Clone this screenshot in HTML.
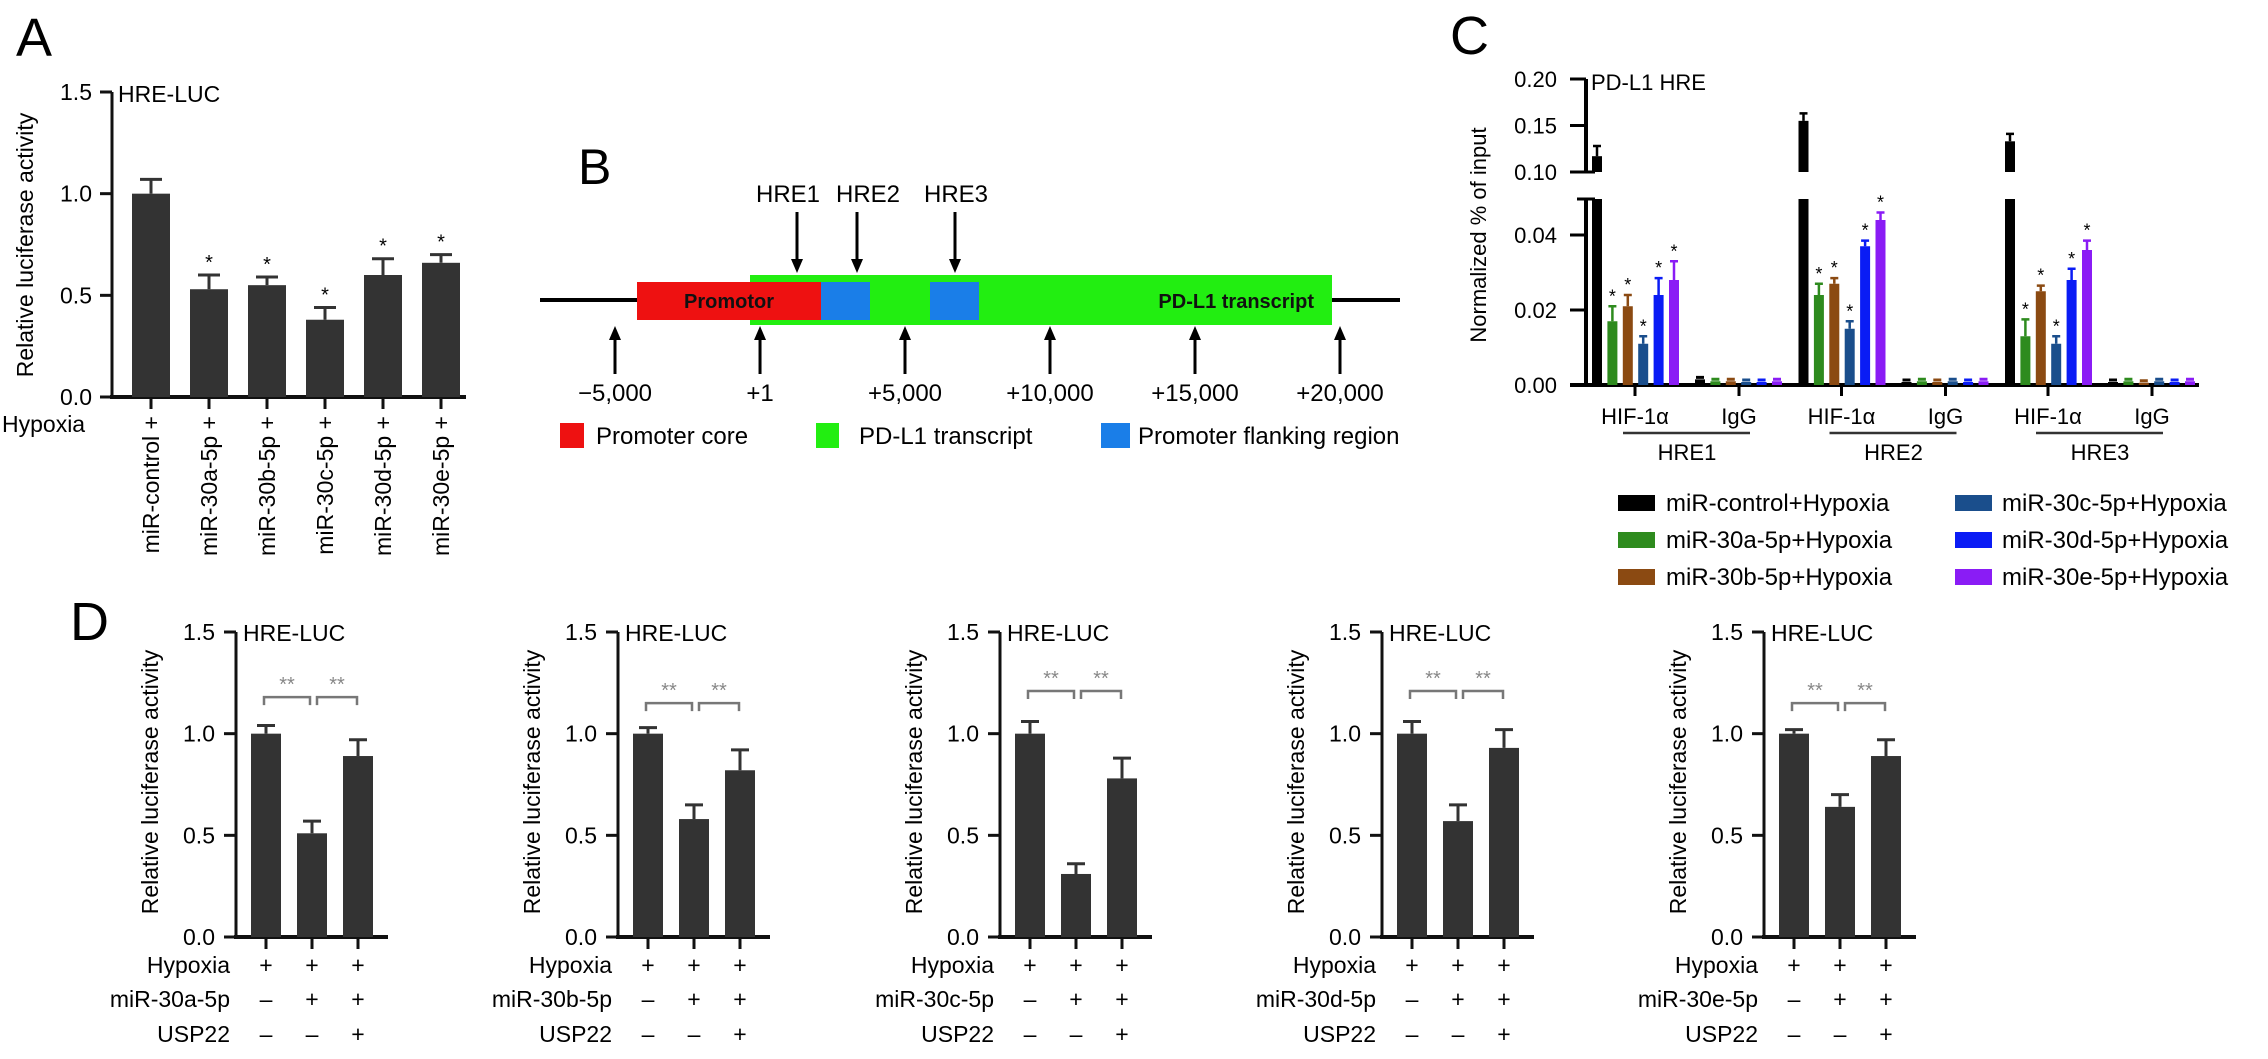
<!DOCTYPE html>
<html><head><meta charset="utf-8"><style>
html,body{margin:0;padding:0;background:#fff;}
svg{display:block;font-family:"Liberation Sans",Arial,sans-serif;}
</style></head><body>
<svg id="fig" width="2268" height="1059" viewBox="0 0 2268 1059" xmlns="http://www.w3.org/2000/svg">
<g font-size="54" fill="#000">
<text x="16" y="56">A</text>
<text x="578" y="184" font-size="50">B</text>
<text x="1450" y="54">C</text>
<text x="70" y="640">D</text>
</g>
<g id="panelB">
<line x1="540" y1="300" x2="1400" y2="300" stroke="#000" stroke-width="4"/>
<rect x="750" y="275" width="582" height="50" fill="#22ee11"/>
<rect x="637" y="282" width="184" height="38" fill="#ee1111"/>
<rect x="821" y="282" width="49" height="38" fill="#1a7ee8"/>
<rect x="930" y="282" width="49" height="38" fill="#1a7ee8"/>
<text x="729" y="308" font-size="20" font-weight="bold" text-anchor="middle" fill="#111">Promotor</text>
<text x="1314" y="308" font-size="20" font-weight="bold" text-anchor="end" fill="#111">PD-L1 transcript</text>
<g font-size="24" text-anchor="middle">
<text x="788" y="202">HRE1</text>
<text x="868" y="202">HRE2</text>
<text x="956" y="202">HRE3</text>
</g>
<g id="bArrows"></g>
<g font-size="24">
<rect x="560" y="423" width="24" height="25" fill="#ee1111"/>
<text x="596" y="444">Promoter core</text>
<rect x="816" y="423" width="23" height="25" fill="#22ee11"/>
<text x="859" y="444">PD-L1 transcript</text>
<rect x="1101" y="423" width="29" height="25" fill="#1a7ee8"/>
<text x="1138" y="444">Promoter flanking region</text>
</g>
</g>
<g id="panelA"></g>
<g id="panelC"></g>
<g id="panelD"></g>
</svg>
<script>
// ---- Panel A data ----
const aCategories = ["miR-control", "miR-30a-5p", "miR-30b-5p", "miR-30c-5p", "miR-30d-5p", "miR-30e-5p"];
const aValues = [1.0, 0.53, 0.55, 0.38, 0.60, 0.66];
const aErrors = [0.07, 0.07, 0.04, 0.06, 0.08, 0.04];
const aStars = ["", "*", "*", "*", "*", "*"];
const luTicks = [0.0, 0.5, 1.0, 1.5];
const luTickLabels = ["0.0", "0.5", "1.0", "1.5"];
// ---- Panel B data ----
const bPositions = ["−5,000", "+1", "+5,000", "+10,000", "+15,000", "+20,000"];
const bPosValues = [-5000, 1, 5000, 10000, 15000, 20000];
const bHreValues = [1276, 3345, 6724];
// ---- Panel C data ----
const cSeries = ["miR-control+Hypoxia", "miR-30a-5p+Hypoxia", "miR-30b-5p+Hypoxia", "miR-30c-5p+Hypoxia", "miR-30d-5p+Hypoxia", "miR-30e-5p+Hypoxia"];
const cColors = ["#000000", "#2e8b1e", "#8b4a12", "#1a4e8c", "#0a1cf5", "#8a1cf5"];
const cGroups = ["HRE1", "HRE2", "HRE3"];
const cHif = [[0.117, 0.017, 0.021, 0.011, 0.024, 0.028], [0.155, 0.024, 0.027, 0.015, 0.037, 0.044], [0.133, 0.013, 0.025, 0.011, 0.028, 0.036]];
const cHifErr = [[0.011, 0.004, 0.003, 0.002, 0.0045, 0.005], [0.008, 0.003, 0.0015, 0.002, 0.0015, 0.002], [0.008, 0.0045, 0.0015, 0.002, 0.003, 0.0025]];
const cIgg = [[0.0015, 0.001, 0.001, 0.0008, 0.0008, 0.001], [0.0008, 0.001, 0.0008, 0.001, 0.0008, 0.001], [0.0008, 0.001, 0.0006, 0.001, 0.0008, 0.001]];
const cLowTicks = [0.00, 0.02, 0.04];
const cLowTickLabels = ["0.00", "0.02", "0.04"];
const cHighTicks = [0.10, 0.15, 0.20];
const cHighTickLabels = ["0.10", "0.15", "0.20"];
// ---- Panel D data ----
const dMirs = ["miR-30a-5p", "miR-30b-5p", "miR-30c-5p", "miR-30d-5p", "miR-30e-5p"];
const dValues = [[1.0, 0.51, 0.89], [1.0, 0.58, 0.82], [1.0, 0.31, 0.78], [1.0, 0.57, 0.93], [1.0, 0.64, 0.89]];
const dErrors = [[0.04, 0.06, 0.08], [0.03, 0.07, 0.10], [0.06, 0.05, 0.10], [0.06, 0.08, 0.09], [0.02, 0.06, 0.08]];
const dBracketY = [1.18, 1.15, 1.21, 1.21, 1.15];
const dHypoxia = ["+", "+", "+"];
const dMir = ["–", "+", "+"];
const dUsp = ["–", "–", "+"];

const NS = "http://www.w3.org/2000/svg";
function mk(parent, tag, attrs, text) {
  const e = document.createElementNS(NS, tag);
  for (const k in attrs) e.setAttribute(k, attrs[k]);
  if (text !== undefined) e.textContent = text;
  parent.appendChild(e);
  return e;
}
let el;

// ================= Panel A =================
const A = document.getElementById("panelA");
const aAxisX = 112, aY0 = 397, aY15 = 92;
const aY = v => aY0 - (aY0 - aY15) * v / 1.5;
const aX = i => 151 + i * 58;
el = mk(A, "line", {x1: aAxisX, y1: aY15, x2: aAxisX, y2: aY0, stroke: "#111", "stroke-width": 3});
 
el = mk(A, "line", {x1: aAxisX - 2, y1: aY0, x2: 466, y2: aY0, stroke: "#111", "stroke-width": 4});
 
luTicks.forEach((t, i) => {
  el = mk(A, "line", {x1: aAxisX - 12, y1: aY(t), x2: aAxisX, y2: aY(t), stroke: "#111", "stroke-width": 3});
   
  el = mk(A, "text", {x: aAxisX - 20, y: aY(t) + 8, "font-size": 23, "text-anchor": "end"}, luTickLabels[i]);
   
});
el = mk(A, "text", {x: 118, y: 102, "font-size": 23}, "HRE-LUC");
 
el = mk(A, "text", {x: 0, y: 0, "font-size": 23, "text-anchor": "middle", transform: "translate(33,245) rotate(-90)"}, "Relative luciferase activity");
 
el = mk(A, "text", {x: 2, y: 432, "font-size": 23}, "Hypoxia");
 
aValues.forEach((v, i) => {
  const cx = aX(i), w = 38;
  el = mk(A, "rect", {x: cx - w / 2, y: aY(v), width: w, height: aY0 - aY(v), fill: "#333"});
   
  el = mk(A, "path", {d: `M${cx},${aY(v)}V${aY(v + aErrors[i])}M${cx - 11},${aY(v + aErrors[i])}H${cx + 11}`, stroke: "#333", "stroke-width": 3, fill: "none"});
   
  if (aStars[i]) {
    el = mk(A, "text", {x: cx, y: aY(v + aErrors[i]) - 6, "font-size": 20, "text-anchor": "middle"}, aStars[i]);
     
  }
  el = mk(A, "line", {x1: cx, y1: aY0, x2: cx, y2: aY0 + 12, stroke: "#111", "stroke-width": 3});
   
  el = mk(A, "text", {x: 0, y: 0, "font-size": 23, "text-anchor": "end", transform: `translate(${cx + 8},416) rotate(-90)`}, aCategories[i] + " +");
   
});

// ================= Panel B arrows =================
const B = document.getElementById("bArrows");
const bX = p => 615 + (p + 5000) * (1340 - 615) / 25000;
bPosValues.forEach((p, i) => {
  const x = bX(p);
  el = mk(B, "path", {d: `M${x},374V336`, stroke: "#000", "stroke-width": 3});
   
  el = mk(B, "path", {d: `M${x - 6},340L${x},326L${x + 6},340Z`, fill: "#000"});
   
  el = mk(B, "text", {x: x, y: 401, "font-size": 24, "text-anchor": "middle"}, bPositions[i]);
   
});
bHreValues.forEach((p, i) => {
  const x = bX(p);
  el = mk(B, "path", {d: `M${x},212V262`, stroke: "#000", "stroke-width": 3});
   
  el = mk(B, "path", {d: `M${x - 6},259L${x},273L${x + 6},259Z`, fill: "#000"});
   
});

// ================= Panel C =================
const C = document.getElementById("panelC");
const cAxisX = 1586, cY0 = 385;
const cLowTop = 199, cHighBot = 172;
const cYLow = v => cY0 - v * 3750;
const cYHigh = v => cHighBot - (v - 0.10) * 930;
const cYv = v => v <= 0.0496 ? cYLow(v) : cYHigh(Math.max(v, 0.10));
const cGroupOffset = 206.5, cBarStep = 15.4;
const cHifX = (g, s) => 1597 + g * cGroupOffset + s * cBarStep;
const cIggX = (g, s) => 1700 + g * cGroupOffset + s * cBarStep;
el = mk(C, "line", {x1: cAxisX, y1: 79, x2: cAxisX, y2: cHighBot, stroke: "#000", "stroke-width": 4});
 
el = mk(C, "line", {x1: cAxisX, y1: cLowTop, x2: cAxisX, y2: cY0, stroke: "#000", "stroke-width": 4});
 
el = mk(C, "line", {x1: 1570, y1: cY0, x2: 2199, y2: cY0, stroke: "#000", "stroke-width": 4});
 
[[cHighBot, 'c-axis-break-top'], [cLowTop, 'c-axis-break-bottom']].forEach(b => {
  el = mk(C, "line", {x1: cAxisX - 9, y1: b[0], x2: cAxisX + 9, y2: b[0], stroke: "#000", "stroke-width": 3});
   
});
cLowTicks.forEach((t, i) => {
  el = mk(C, "line", {x1: 1570, y1: cYLow(t), x2: cAxisX, y2: cYLow(t), stroke: "#000", "stroke-width": 3});
   
  el = mk(C, "text", {x: 1557, y: cYLow(t) + 8, "font-size": 22, "text-anchor": "end"}, cLowTickLabels[i]);
   
});
cHighTicks.forEach((t, i) => {
  el = mk(C, "line", {x1: 1570, y1: cYHigh(t), x2: cAxisX, y2: cYHigh(t), stroke: "#000", "stroke-width": 3});
   
  el = mk(C, "text", {x: 1557, y: cYHigh(t) + 8, "font-size": 22, "text-anchor": "end"}, cHighTickLabels[i]);
   
});
el = mk(C, "text", {x: 1591, y: 90, "font-size": 22}, "PD-L1 HRE");
 
el = mk(C, "text", {x: 0, y: 0, "font-size": 22, "text-anchor": "middle", transform: "translate(1486,235) rotate(-90)"}, "Normalized % of input");
 
function cBar(x, v, color, name) {
  const w = 10;
  if (v > 0.0496) {
    el = mk(C, "rect", {x: x - w / 2, y: cLowTop, width: w, height: cY0 - cLowTop, fill: color});
     
    el = mk(C, "rect", {x: x - w / 2, y: cYHigh(v), width: w, height: cHighBot - cYHigh(v), fill: color});
     
  } else {
    el = mk(C, "rect", {x: x - w / 2, y: cYLow(v), width: w, height: cY0 - cYLow(v), fill: color});
     
  }
}
cGroups.forEach((g, gi) => {
  cHif[gi].forEach((v, s) => {
    const x = cHifX(gi, s);
    cBar(x, v, cColors[s], 'c-bar-' + g + '-hif-' + s);
    const yt = cYv(v), ye = cYv(v + cHifErr[gi][s]);
    el = mk(C, "path", {d: `M${x},${yt}V${ye}M${x - 4},${ye}H${x + 4}`, stroke: cColors[s], "stroke-width": 2.5, fill: "none"});
     
    if (s > 0) {
      el = mk(C, "text", {x: x, y: ye - 4, "font-size": 18, "text-anchor": "middle"}, "*");
       
    }
  });
  cIgg[gi].forEach((v, s) => {
    const x = cIggX(gi, s);
    cBar(x, v, cColors[s], 'c-bar-' + g + '-igg-' + s);
    el = mk(C, "path", {d: `M${x - 4},${cYLow(v) - 2}H${x + 4}`, stroke: cColors[s], "stroke-width": 3});
     
  });
  const hx = 1635 + gi * cGroupOffset, ix = 1739 + gi * cGroupOffset;
  [[hx, "HIF-1α", 'c-x-label-hif'], [ix, "IgG", 'c-x-label-igg']].forEach(t => {
    el = mk(C, "line", {x1: t[0], y1: cY0, x2: t[0], y2: cY0 + 11, stroke: "#000", "stroke-width": 3});
     
    el = mk(C, "text", {x: t[0], y: 424, "font-size": 22, "text-anchor": "middle"}, t[1]);
     
  });
  el = mk(C, "line", {x1: 1623 + gi * cGroupOffset, y1: 433, x2: 1750 + gi * cGroupOffset, y2: 433, stroke: "#333", "stroke-width": 2.5});
   
  el = mk(C, "text", {x: 1687 + gi * cGroupOffset, y: 460, "font-size": 22, "text-anchor": "middle"}, g);
   
});
cSeries.forEach((s, i) => {
  const col = Math.floor(i / 3), row = i % 3;
  const bx = col ? 1955 : 1618, tx = col ? 2002 : 1666, y = 503 + row * 37;
  el = mk(C, "rect", {x: bx, y: y - 8, width: 37, height: 16, fill: cColors[i]});
   
  el = mk(C, "text", {x: tx, y: y + 8, "font-size": 24}, s);
   
});

// ================= Panel D =================
const D = document.getElementById("panelD");
const dY0 = 937, dY15 = 632;
const dY = v => dY0 - (dY0 - dY15) * v / 1.5;
dMirs.forEach((m, p) => {
  const ax = 236 + p * 382;
  const bxs = [ax + 30, ax + 76, ax + 122];
  const g = mk(D, "g", {});
   
  el = mk(g, "line", {x1: ax, y1: dY15, x2: ax, y2: dY0, stroke: "#111", "stroke-width": 3});
   
  el = mk(g, "line", {x1: ax - 2, y1: dY0, x2: ax + 152, y2: dY0, stroke: "#111", "stroke-width": 4});
   
  luTicks.forEach((t, i) => {
    el = mk(g, "line", {x1: ax - 12, y1: dY(t), x2: ax, y2: dY(t), stroke: "#111", "stroke-width": 3});
     
    el = mk(g, "text", {x: ax - 21, y: dY(t) + 8, "font-size": 23, "text-anchor": "end"}, luTickLabels[i]);
     
  });
  el = mk(g, "text", {x: ax + 7, y: 641, "font-size": 23}, "HRE-LUC");
   
  el = mk(g, "text", {x: 0, y: 0, "font-size": 23, "text-anchor": "middle", transform: `translate(${ax - 78},782) rotate(-90)`}, "Relative luciferase activity");
   
  dValues[p].forEach((v, i) => {
    const cx = bxs[i], w = 30, e = v + dErrors[p][i];
    el = mk(g, "rect", {x: cx - w / 2, y: dY(v), width: w, height: dY0 - dY(v), fill: "#333"});
     
    el = mk(g, "path", {d: `M${cx},${dY(v)}V${dY(e)}M${cx - 9},${dY(e)}H${cx + 9}`, stroke: "#333", "stroke-width": 3, fill: "none"});
     
    el = mk(g, "line", {x1: cx, y1: dY0, x2: cx, y2: dY0 + 12, stroke: "#111", "stroke-width": 3});
     
    [[dHypoxia[i], 973], [dMir[i], 1007], [dUsp[i], 1042]].forEach(r => {
      el = mk(g, "text", {x: cx, y: r[1], "font-size": 23, "text-anchor": "middle"}, r[0]);
       
    });
  });
  const by = dY(dBracketY[p]);
  [[bxs[0] - 2, bxs[1] - 2], [bxs[1] + 5, bxs[2] - 1]].forEach(br => {
    el = mk(g, "path", {d: `M${br[0]},${by + 8}V${by}H${br[1]}V${by + 8}`, stroke: "#777", "stroke-width": 2.5, fill: "none"});
     
    el = mk(g, "text", {x: (br[0] + br[1]) / 2, y: by - 6, "font-size": 20, "text-anchor": "middle", fill: "#888"}, "**");
     
  });
  [["Hypoxia", 973], [m, 1007], ["USP22", 1042]].forEach(r => {
    el = mk(g, "text", {x: ax - 6, y: r[1], "font-size": 23, "text-anchor": "end"}, r[0]);
     
  });
});
</script>
</body></html>
